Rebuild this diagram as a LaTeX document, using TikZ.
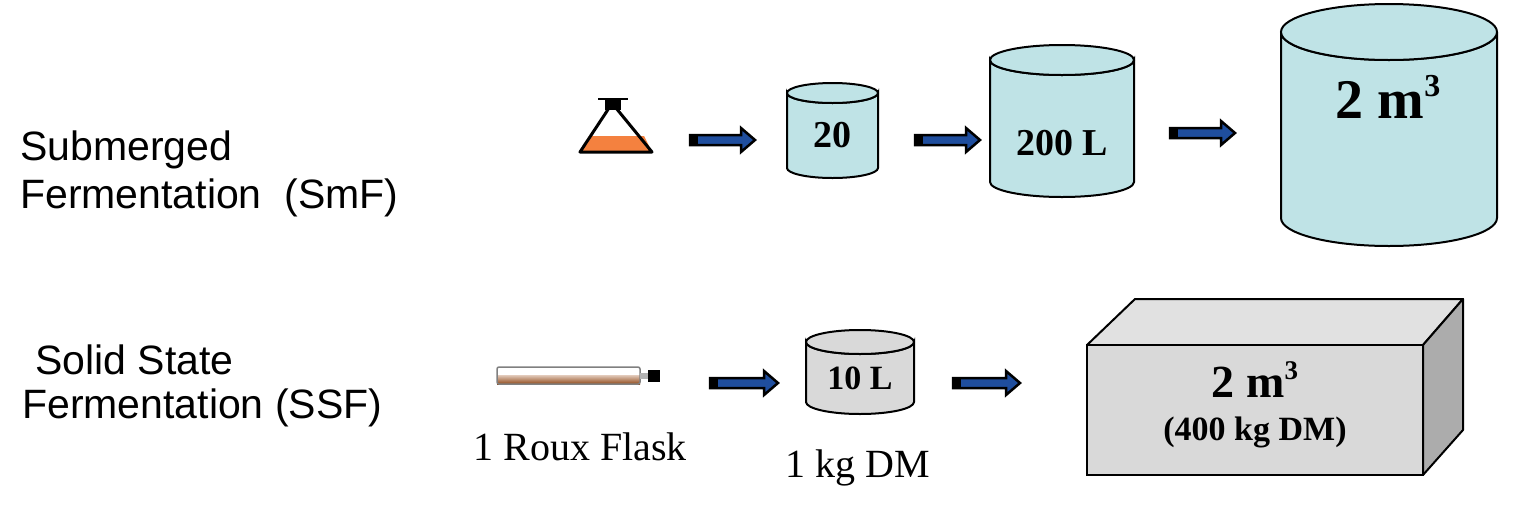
\documentclass[tikz,border=0pt]{standalone}
\usepackage{fontspec}
\setmainfont{Liberation Serif}
\newfontfamily\arialf{Liberation Sans}
\definecolor{cyl}{HTML}{BFE3E6}
\definecolor{boxg}{HTML}{D9D9D9}
\definecolor{arrb}{HTML}{1F4E9E}
\definecolor{flor}{HTML}{F4813F}
\definecolor{brn}{HTML}{A0521E}
\newcommand\mycyl[6][cyl]{% x1 x2 ytop ybot ry
  \pgfmathsetmacro\cx{(#2+#3)/2}\pgfmathsetmacro\rx{(#3-#2)/2}
  \filldraw[cylst,fill=#1] (#2,-#4) -- (#2,-#5) arc[start angle=180,end angle=360,x radius=\rx,y radius=#6] -- (#3,-#4) arc[start angle=0,end angle=-180,x radius=\rx,y radius=#6] -- cycle;
  \filldraw[cylst,fill=#1] (\cx,-#4) ellipse[x radius=\rx,y radius=#6];}
\newcommand\myarr[3]{% x0 x1 y
  \filldraw[fill=arrb,draw=black,line width=2.5pt,line join=miter] (#1,-#3+5) -- (#2-14,-#3+5) -- (#2-14,-#3+12) -- (#2,-#3) -- (#2-14,-#3-12) -- (#2-14,-#3-5) -- (#1,-#3-5) -- cycle;
  \fill (#1-1,-#3+6) rectangle (#1+8,-#3-6);}
\newcommand\supthree[2]{\raisebox{#1}{\fontsize{#2}{#2}\selectfont 3}}
\begin{document}
\begin{tikzpicture}[x=1pt,y=1pt,cylst/.style={draw=black,line width=2pt},
 lab/.style={font=\fontsize{41}{46}\selectfont\arialf,anchor=west,inner sep=0},
 num/.style={font=\bfseries\fontsize{38}{44}\selectfont,inner sep=0}]
\useasboundingbox (0,0) rectangle (1519,-515);
\node[lab] (t1) at (20,-150) {Submerged};
\node[lab] (t2) at (20,-198) {Fermentation\ \ (SmF)};
\node[lab] (t3) at (35,-360) {Solid State};
\node[lab] (t4) at (22,-408) {Fermentation (SSF)};
% flask
\fill[flor] (589,-136) -- (644,-136) -- (652,-152) -- (580,-152) -- cycle;
\draw[line width=3pt,line join=round] (609,-108) -- (580,-152) -- (652,-152) -- (616,-108);
\fill (605,-98) rectangle (621,-110);
\draw[line width=2.5pt] (598,-99) -- (628,-99);
\myarr{690}{755}{140}
\mycyl{787}{878}{93}{168}{10}
\node[num] (n20) at (832,-135) {20};
\myarr{915}{980}{140}
\mycyl{990}{1134}{60}{182}{15}
\node[num] (n200) at (1062,-143) {200 L};
\myarr{1170}{1235}{133}
\mycyl{1281}{1497}{32}{218}{28}
\node[num,font=\bfseries\fontsize{56}{60}\selectfont] (n2) at (1388,-97) {2 m\supthree{22pt}{32}};
% Roux flask
\fill[white] (497,-367) rectangle (640,-375);
\shade[top color=brn!30,bottom color=brn!90!black] (497,-375) rectangle (640,-384);
\draw[gray,line width=1.5pt,rounded corners=2pt] (497,-367) rectangle (640,-384);
\fill[gray!60] (640,-373) rectangle (648,-379);
\fill (648,-370) rectangle (660,-382);
\node[font=\fontsize{40}{44}\selectfont] (rf) at (580,-447) {1 Roux Flask};
\myarr{710}{778}{383}
\mycyl[boxg]{806}{914}{342}{402}{12}
\node[num,font=\bfseries\fontsize{34}{40}\selectfont] (n10) at (860,-378) {10 L};
\node[font=\fontsize{40}{44}\selectfont] (kg) at (858,-468) {1 kg DM};
\myarr{953}{1020}{383}
% box
\filldraw[fill=boxg!80,draw=black,line width=2pt,line join=round] (1087,-345) -- (1135,-299) -- (1463,-299) -- (1423,-345) -- cycle;
\filldraw[fill=gray!65,draw=black,line width=2pt,line join=round] (1423,-345) -- (1463,-299) -- (1463,-430) -- (1423,-475) -- cycle;
\filldraw[fill=boxg,draw=black,line width=2pt] (1087,-345) rectangle (1423,-475);
\node[num,font=\bfseries\fontsize{46}{50}\selectfont] (b1) at (1255,-380) {2 m\supthree{18pt}{27}};
\node[num,font=\bfseries\fontsize{34}{40}\selectfont] (b2) at (1255,-432) {(400 kg DM)};
\end{tikzpicture}
\end{document}
